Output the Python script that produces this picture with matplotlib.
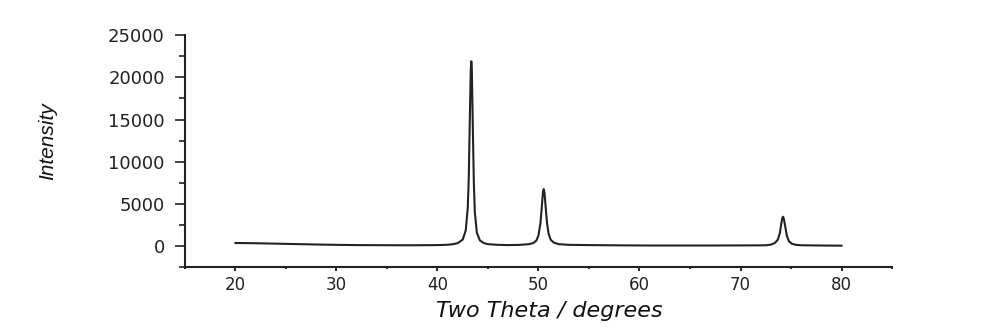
import matplotlib
matplotlib.use("Agg")
import matplotlib.pyplot as plt
from matplotlib.ticker import MultipleLocator
from matplotlib import font_manager

# Data (2-theta in degrees, intensity in counts)
two_theta = [
    20.0, 22.0, 24.0, 26.0, 28.0, 30.0, 32.0, 34.0, 36.0, 38.0, 40.0, 41.0, 41.5, 42.0,
    42.5, 42.8, 43.0, 43.1, 43.2, 43.3, 43.35, 43.4, 43.5, 43.6, 43.7, 43.9, 44.2, 44.6,
    45.0, 46.0, 47.0, 48.0, 49.0, 49.5, 49.8, 50.0, 50.2, 50.35, 50.45, 50.52, 50.6, 50.7,
    50.85, 51.0, 51.2, 51.5, 52.0, 53.0, 55.0, 58.0, 61.0, 64.0, 67.0, 70.0, 72.0, 72.5,
    73.0, 73.4, 73.7, 73.9, 74.05, 74.15, 74.22, 74.3, 74.45, 74.6, 74.8, 75.1, 75.5, 76.0,
    78.0, 80.0,
]
intensity = [
    400, 370, 320, 270, 220, 180, 150, 140, 130, 130, 150, 190, 250, 380,
    800, 1900, 4600, 8200, 15000, 21000, 21900, 21000, 14000, 7500, 4000, 1600, 700, 380,
    260, 180, 150, 170, 250, 400, 700, 1300, 2800, 5000, 6500, 6770, 6300, 4800,
    2700, 1500, 800, 450, 260, 180, 150, 120, 100, 100, 100, 110, 120, 130,
    200, 400, 800, 1600, 2800, 3400, 3500, 3200, 2200, 1200, 600, 300, 180, 130,
    100, 80,
]

x_ticks = [20, 30, 40, 50, 60, 70, 80]
y_ticks = [0, 5000, 10000, 15000, 20000, 25000]
x_label = "Two Theta / degrees"
y_label = "Intensity"

fig = plt.figure(figsize=(9.96, 3.28), dpi=100)
ax = fig.add_axes([0.1857, 0.1845, 0.7099, 0.7085])

ax.plot(two_theta, intensity, color="#222222", lw=1.5)

ax.set_xlim(15, 85)
ax.set_ylim(-2500, 25000)
ax.set_xticks(x_ticks)
ax.set_yticks(y_ticks)
ax.xaxis.set_minor_locator(MultipleLocator(5))
ax.yaxis.set_minor_locator(MultipleLocator(2500))

for s in ("top", "right"):
    ax.spines[s].set_visible(False)
for s in ("left", "bottom"):
    ax.spines[s].set_linewidth(1.5)
    ax.spines[s].set_color("#222222")

ax.tick_params(axis="y", which="major", direction="out", length=7.5, width=1.2,
               pad=7, labelsize=13, colors="#222222")
ax.tick_params(axis="y", which="minor", direction="out", length=4.5, width=1.2,
               colors="#222222")
ax.tick_params(axis="x", which="major", direction="out", length=3, width=1.4,
               pad=3, labelsize=12, colors="#222222")
ax.tick_params(axis="x", which="minor", direction="out", length=1.5, width=1.4,
               colors="#222222")
for lab in ax.get_xticklabels() + ax.get_yticklabels():
    lab.set_family("DejaVu Sans")

xl = ax.set_xlabel(x_label, fontsize=16, style="italic", family="DejaVu Sans",
                   color="#111111")
xl.set_verticalalignment("baseline")
ax.xaxis.set_label_coords(0.515, -0.215)

names = {f.name for f in font_manager.fontManager.ttflist}
if "Liberation Sans Narrow" in names:
    yfam, ysize = "Liberation Sans Narrow", 17
else:
    yfam, ysize = "Liberation Sans", 15
ax.set_ylabel(y_label, fontsize=ysize, style="italic", family=yfam, color="#111111")
ax.yaxis.set_label_coords(-0.181, 0.544)

fig.savefig("out.png", dpi=100)
